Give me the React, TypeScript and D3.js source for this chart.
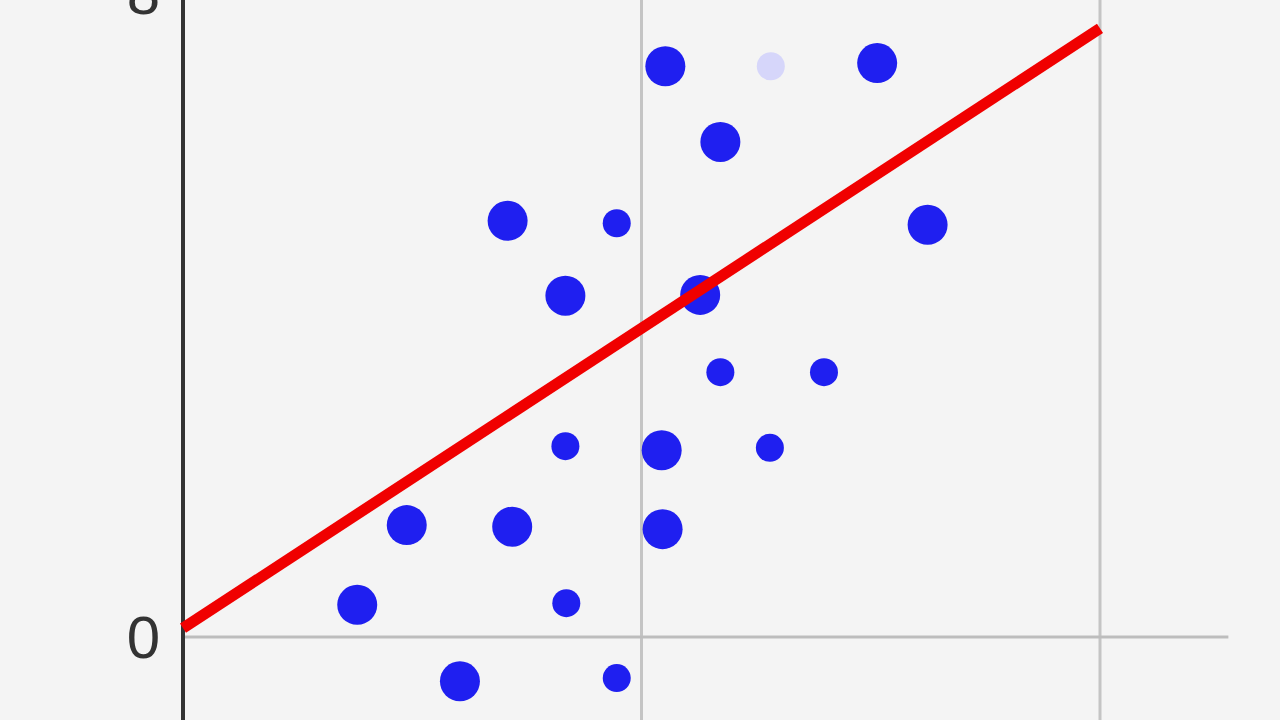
import React from "react";
import * as d3 from "d3";

// scatter values (x, y) and a weight that sets the marker size
const xValues = [5.26, 7.57, 5.86, 3.54, 4.73, 8.12, 4.17, 5.64, 5.86, 6.99, 4.17, 5.22, 6.40, 2.44, 3.59, 5.23, 1.90, 4.18, 3.02, 4.73];
const yValues = [7.09, 7.13, 6.15, 5.17, 5.14, 5.12, 4.24, 4.25, 3.29, 3.29, 2.37, 2.32, 2.35, 1.39, 1.37, 1.34, 0.40, 0.42, -0.55, -0.51];
const weights = [2, 2, 2, 2, 1, 2, 2, 2, 1, 1, 1, 2, 1, 2, 2, 2, 2, 1, 2, 1];

// faded point (deselected)
const fadedX = [6.41];
const fadedY = [7.09];

// trend line end points
const trendX = [0, 10];
const trendY = [0.11, 7.56];

const yTicks = [0, 8];
const xGrid = [5, 10];

const W = 1280;
const H = 720;

export default function App() {
  const x = d3.scaleLinear().domain([0, 10]).range([183, 1100]);
  const y = d3.scaleLinear().domain([0, 8]).range([637, -7]);
  const r = d3.scaleOrdinal<number, number>().domain([1, 2]).range([14, 20]);

  const plotRight = x(11.4);
  const line = d3
    .line<number>()
    .x((d) => x(trendX[d]))
    .y((d) => y(trendY[d]));

  return (
    <div style={{ position: "absolute", left: 0, top: 0, width: W, height: H }}>
      <svg width={W} height={H} viewBox={`0 0 ${W} ${H}`} style={{ display: "block" }}>
        <rect width={W} height={H} fill="#f4f4f4" />

        {/* vertical gridlines */}
        {xGrid.map((g) => (
          <line key={g} x1={x(g)} x2={x(g)} y1={-20} y2={H + 20} stroke="#c4c4c4" strokeWidth={3} />
        ))}

        {/* zero baseline */}
        <line x1={x(0)} x2={plotRight} y1={y(0)} y2={y(0)} stroke="#bdbdbd" strokeWidth={3} />

        {/* y axis */}
        <line x1={x(0)} x2={x(0)} y1={-20} y2={H + 20} stroke="#333" strokeWidth={4} />

        {yTicks.map((t) => (
          <text
            key={t}
            x={160}
            y={y(t)}
            textAnchor="end"
            dominantBaseline="central"
            fontFamily="Arial, 'Liberation Sans', sans-serif"
            fontSize={60}
            fill="#333"
          >
            {t}
          </text>
        ))}

        {fadedX.map((v, i) => (
          <circle key={"f" + i} cx={x(v)} cy={y(fadedY[i])} r={14} fill="#d6d6fa" />
        ))}

        {xValues.map((v, i) => (
          <circle key={i} cx={x(v)} cy={y(yValues[i])} r={r(weights[i])} fill="#1f1ff0" />
        ))}

        <path d={line([0, 1]) || ""} fill="none" stroke="#f00000" strokeWidth={11} />
      </svg>
    </div>
  );
}
